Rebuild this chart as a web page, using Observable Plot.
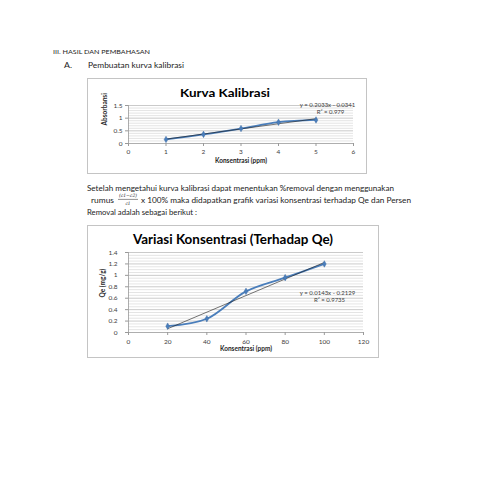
<!DOCTYPE html>
<html><head><meta charset="utf-8">
<script src="https://cdn.jsdelivr.net/npm/d3@7"></script>
<script src="https://cdn.jsdelivr.net/npm/@observablehq/plot@0.6"></script>
<style>
html,body{margin:0;padding:0;background:#fff;}
#page{position:relative;width:495px;height:495px;overflow:hidden;font-family:Lato,"Open Sans",sans-serif;}
.box{position:absolute;border:1px solid #c4c4c4;box-sizing:border-box;pointer-events:none;}
.chart{position:absolute;}
#overlay{position:absolute;left:0;top:0;pointer-events:none;}
</style></head><body><div id="page"></div>
<script>
// ---- Chart 1: Kurva Kalibrasi ----
const kalX = [1, 2, 3, 4, 5];
const kalY = [0.16, 0.36, 0.59, 0.84, 0.93];
const kalXTicks = [0, 1, 2, 3, 4, 5, 6];
const kalYTicks = [0, 0.5, 1, 1.5];
const kalEq = ["y = 0.2033x - 0.0341", "R² = 0.979"];
const kalTitle = "Kurva Kalibrasi";
const kalXLabel = "Konsentrasi (ppm)";
const kalYLabel = "Absorbansi";

// ---- Chart 2: Variasi Konsentrasi ----
const konsX = [20, 40, 60, 80, 100];
const konsQe = [0.11, 0.24, 0.72, 0.96, 1.2];
const konsXTicks = [0, 20, 40, 60, 80, 100, 120];
const konsYTicks = [0, 0.2, 0.4, 0.6, 0.8, 1, 1.2, 1.4];
const konsEq = ["y = 0.0143x - 0.2129", "R² = 0.9735"];
const konsTitle = "Variasi Konsentrasi (Terhadap Qe)";
const konsXLabel = "Konsentrasi (ppm)";
const konsYLabel = "Qe (mg/g)";

const page = document.getElementById("page");
const FONT = "Lato, 'Open Sans', sans-serif";
const SERIES = "#4a7ebb";

function makeChart(o) {
  const data = o.xs.map((x, i) => ({x, y: o.ys[i]}));
  const yMax = o.yTicks[o.yTicks.length - 1];
  const minor = d3.range(o.minor, yMax - 1e-9, o.minor).filter(v => !o.yTicks.some(t => Math.abs(t - v) < 1e-9));
  const svg = Plot.plot({
    width: o.width, height: o.height,
    marginLeft: o.ml, marginRight: o.mr, marginTop: o.mt, marginBottom: o.mb,
    style: {background: "transparent", fontFamily: FONT, fontSize: "6.5px", color: "#404040", overflow: "visible"},
    x: {domain: [o.xTicks[0], o.xTicks[o.xTicks.length - 1]], label: null},
    y: {domain: [0, yMax], label: null},
    marks: [
      Plot.ruleY(minor, {stroke: "#d9d9d9", strokeWidth: 0.7}),
      Plot.ruleY(o.yTicks.filter(d => d > 0), {stroke: "#b3b3b3", strokeWidth: 0.7}),
      Plot.axisY({ticks: o.yTicks, tickFormat: d => String(d), tickSize: 3, tickPadding: o.yPad, label: null, stroke: "#999"}),
      Plot.axisX({ticks: o.xTicks, tickFormat: d => String(d), tickSize: 3, tickPadding: o.xPad, label: null, stroke: "#999"}),
      Plot.ruleX([o.xTicks[0]], {stroke: "#999", strokeWidth: 0.8}),
      Plot.ruleY([0], {stroke: "#999", strokeWidth: 0.8}),
      Plot.line(data, {x: "x", y: "y", curve: "catmull-rom", stroke: SERIES, strokeWidth: 1.8}),
      Plot.linearRegressionY(data, {x: "x", y: "y", ci: 0, stroke: "#1a1a1a", strokeWidth: 0.6}),
      Plot.dot(data, {x: "x", y: "y", symbol: "diamond", r: 2, fill: SERIES, stroke: "#3b67a0", strokeWidth: 0.4}),
      Plot.text([o.eq[0]], {frameAnchor: "top-right", dx: o.eqDx, dy: o.eqDy, text: d => d, textAnchor: "middle", fontSize: 6, fill: "#404040"}),
      Plot.text([o.eq[1]], {frameAnchor: "top-right", dx: o.r2Dx, dy: o.r2Dy, text: d => d, textAnchor: "middle", fontSize: 6, fill: "#404040"}),
      Plot.text([o.xLabel], {frameAnchor: "bottom", dy: o.xLabDy, text: d => d, fontWeight: "bold", fontSize: 6.5, fill: "#262626"}),
      Plot.text([o.yLabel], {frameAnchor: "left", dx: o.yLabDx, dy: o.yLabDy, rotate: -90, text: d => d, fontWeight: "bold", fontSize: 6.5, fill: "#262626"})
    ]
  });
  svg.classList.add("chart");
  svg.style.left = o.left + "px";
  svg.style.top = o.top + "px";
  page.appendChild(svg);
  const box = document.createElement("div");
  box.className = "box";
  Object.assign(box.style, {left: o.boxL + "px", top: o.boxT + "px", width: o.boxW + "px", height: o.boxH + "px"});
  page.appendChild(box);
}

makeChart({
  xs: kalX, ys: kalY, xTicks: kalXTicks, yTicks: kalYTicks, minor: 0.1, eq: kalEq,
  xLabel: kalXLabel, yLabel: kalYLabel,
  left: 87, top: 98, width: 279, height: 75, ml: 41, mr: 13, mt: 7, mb: 30,
  yPad: 3, xPad: 3,
  eqDx: -26, eqDy: -3, r2Dx: -23, r2Dy: 4,
  xLabDy: 19, yLabDx: -24, yLabDy: 1,
  boxL: 87, boxT: 78, boxW: 280, boxH: 96
});

makeChart({
  xs: konsX, ys: konsQe, xTicks: konsXTicks, yTicks: konsYTicks, minor: 0.05, eq: konsEq,
  xLabel: konsXLabel, yLabel: konsYLabel,
  left: 87, top: 246, width: 291, height: 111, ml: 41, mr: 15, mt: 6, mb: 25,
  yPad: 8, xPad: 4,
  eqDx: -36, eqDy: 38, r2Dx: -34, r2Dy: 45,
  xLabDy: 18, yLabDx: -26, yLabDy: 5,
  boxL: 87, boxT: 225, boxW: 292, boxH: 133
});

// ---- page text overlay ----
const NS = "http://www.w3.org/2000/svg";
const ov = document.createElementNS(NS, "svg");
ov.setAttribute("id", "overlay");
ov.setAttribute("width", 495);
ov.setAttribute("height", 495);
page.appendChild(ov);
function t(x, y, str, size, len, opts = {}) {
  const el = document.createElementNS(NS, "text");
  el.setAttribute("x", x);
  el.setAttribute("y", y);
  el.setAttribute("dominant-baseline", "central");
  el.setAttribute("font-family", opts.family || FONT);
  el.setAttribute("font-size", size);
  el.setAttribute("fill", opts.fill || "#222");
  if (opts.weight) el.setAttribute("font-weight", opts.weight);
  if (opts.style) el.setAttribute("font-style", opts.style);
  if (opts.anchor) el.setAttribute("text-anchor", opts.anchor);
  if (len) { el.setAttribute("textLength", len); el.setAttribute("lengthAdjust", "spacingAndGlyphs"); }
  el.textContent = str;
  ov.appendChild(el);
}
t(53, 51, "III. HASIL DAN PEMBAHASAN", 6.5, 97);
t(64, 65, "A.", 8, 8);
t(88, 65, "Pembuatan kurva kalibrasi", 8, 96);
t(180, 92, kalTitle, 12, 90, {weight: "bold", fill: "#000"});
t(87, 188, "Setelah mengetahui kurva kalibrasi dapat menentukan %removal dengan menggunakan", 8, 307);
t(91, 200, "rumus", 8, 23);
t(128, 195.3, "(c1−c2)", 4.6, 18, {family: "'DejaVu Serif', serif", style: "italic", anchor: "middle"});
t(128, 203.6, "c1", 4.6, 5, {family: "'DejaVu Serif', serif", style: "italic", anchor: "middle"});
const ln = document.createElementNS(NS, "line");
Object.entries({x1: 118, x2: 138, y1: 199.4, y2: 199.4, stroke: "#222", "stroke-width": 0.5}).forEach(([k, v]) => ln.setAttribute(k, v));
ov.appendChild(ln);
t(141, 200, "x 100% maka didapatkan grafik variasi konsentrasi terhadap Qe dan Persen", 8, 270);
t(87, 212, "Removal  adalah sebagai berikut :", 8, 110);
t(133, 239, konsTitle, 12.5, 200, {weight: "bold", fill: "#000"});
</script>
</body></html>
